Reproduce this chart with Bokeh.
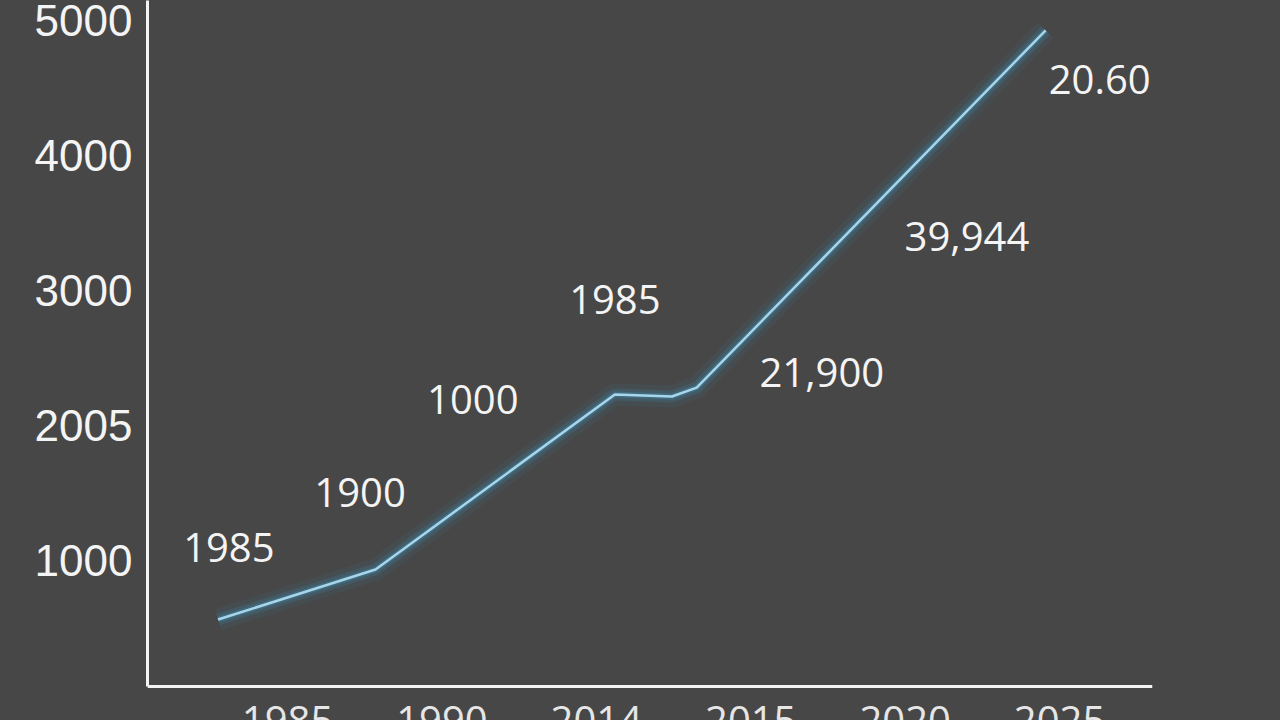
from bokeh.plotting import figure
from bokeh.models import ColumnDataSource, Label, Span, FixedTicker, Range1d, GlobalInlineStyleSheet
from bokeh.embed import file_html
from bokeh.resources import INLINE

# === Data ===
x_labels = ["1985", "1990", "2014", "2015", "2020", "2025"]
x_pos = [0, 1, 2, 3, 4, 5]

line_x = [-0.45, 0.57, 2.12, 2.49, 2.65, 4.91]
line_y = [563, 933, 2230, 2215, 2281, 4926]

note_text = ["1985", "1900", "1000", "1985", "21,900", "39,944", "20.60"]
note_x = [-0.38, 0.47, 1.20, 2.12, 3.46, 4.40, 5.26]
note_y = [1096, 1504, 2193, 2933, 2393, 3400, 4563]

y_ticks = [1000, 2000, 3000, 4000, 5000]
y_tick_labels = ["1000", "2005", "3000", "4000", "5000"]

# === Style ===
BG = "#474747"
FG = "#f4f4f4"
LINE = "#a9d5ea"
GLOW = "#3b8bb3"

# frame runs down to the page edge; the x axis line sits at Y_AXIS
Y_START, Y_AXIS, Y_END = -185, 67, 5148

p = figure(
    width=1280,
    height=720,
    x_range=Range1d(-0.907, 5.602),
    y_range=Range1d(Y_START, Y_END),
    output_backend="svg",
    toolbar_location=None,
    background_fill_color=BG,
    border_fill_color=BG,
    min_border_left=147,
    min_border_right=128,
    min_border_top=0,
    min_border_bottom=0,
)
# dark page behind the plot, so no light seams at the frame edge
p.styles = {"background-color": BG}
p.stylesheets = [GlobalInlineStyleSheet(css="body { background-color: %s; }" % BG)]
p.outline_line_color = None
p.grid.grid_line_color = None
p.xaxis.visible = False

# y axis: white line from the x axis up, big tick labels
p.yaxis.bounds = (Y_AXIS, Y_END)
p.yaxis.ticker = FixedTicker(ticks=y_ticks)
p.yaxis.major_label_overrides = dict(zip(y_ticks, y_tick_labels))
p.yaxis.major_label_text_font = "Liberation Sans"
p.yaxis.major_label_text_font_size = "44px"
p.yaxis.major_label_text_color = FG
p.yaxis.major_label_standoff = 9
p.yaxis.major_tick_line_color = None
p.yaxis.minor_tick_line_color = None
p.yaxis.axis_line_color = FG
p.yaxis.axis_line_width = 3

# x axis line
p.add_layout(Span(location=Y_AXIS, dimension="width", line_color=FG, line_width=3))

# ---------- line with a soft blue glow ----------
src = ColumnDataSource(dict(x=line_x, y=line_y))
p.line("x", "y", source=src, line_color=GLOW, line_width=22, line_alpha=0.10, line_join="round")
p.line("x", "y", source=src, line_color=GLOW, line_width=12, line_alpha=0.20, line_join="round")
p.line("x", "y", source=src, line_color=GLOW, line_width=6, line_alpha=0.35, line_join="round")
p.line("x", "y", source=src, line_color=LINE, line_width=2.5, line_join="round")

# ---------- value notes ----------
for tx, ty, txt in zip(note_x, note_y, note_text):
    p.add_layout(Label(
        x=tx, y=ty, text=txt,
        text_font="Open Sans", text_font_size="40px", text_color=FG,
        text_align="center", text_baseline="middle",
    ))

# ---------- bottom year labels (cut by the page edge) ----------
for tx, txt in zip(x_pos, x_labels):
    p.add_layout(Label(
        x=tx, y=Y_START, text=txt,
        text_font="Open Sans", text_font_size="40px", text_color="#e6e6e6",
        text_align="center", text_baseline="middle",
    ))

open("out.html", "w").write(file_html(p, INLINE))
